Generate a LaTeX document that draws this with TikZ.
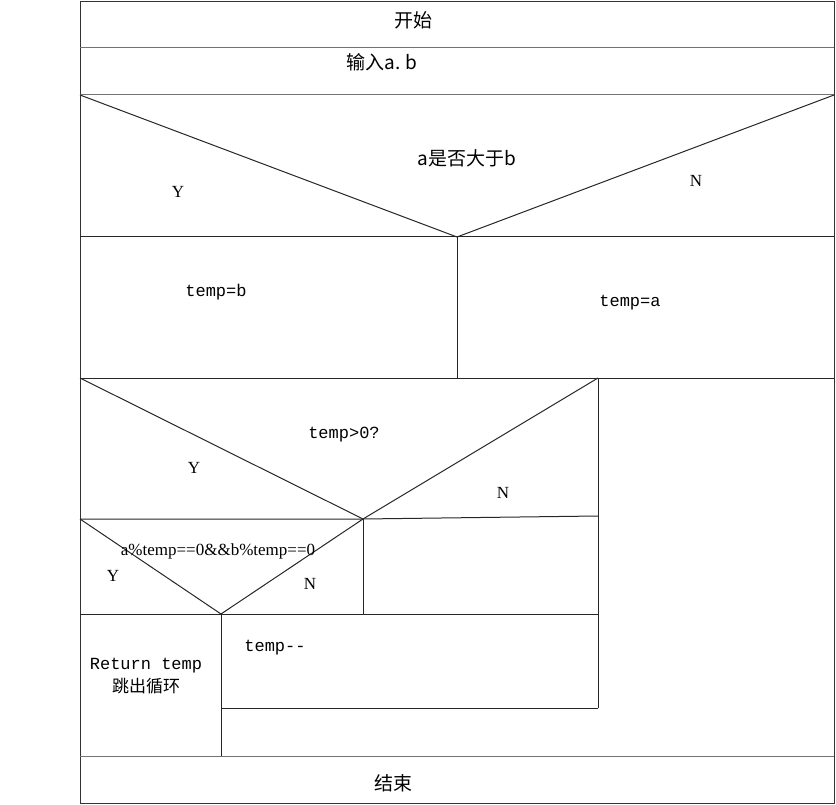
\documentclass[tikz,border=0pt]{standalone}
\usepackage{fontspec}
\setmainfont{Liberation Serif}
\setmonofont{Liberation Mono}
\newfontfamily\cjk{Noto Sans CJK SC}

\begin{document}
\begin{tikzpicture}[x=1pt,y=-1pt,line width=1pt,
		cn/.style={font=\cjk\fontsize{19}{22}\selectfont},
		code/.style={font=\ttfamily\fontsize{17}{23}\selectfont},
		yn/.style={font=\fontsize{17}{20}\selectfont}]
				\useasboundingbox (0,0) rectangle (836,805);
				\draw[black!80] (80,2) rectangle (834,803);
				\draw[black!55] (80,48) -- (834,48);
				\draw[black!55] (80,95) -- (834,95);
				\draw[black!55] (80,756) -- (834,756);
				
				\draw[black!85] (80,95) -- (457,237) -- (834,95);
				\draw[black!85] (80,237) -- (834,237);
				\draw[black!85] (457,237) -- (457,378);
				\draw[black!85] (80,378) -- (834,378);
				
				\draw[black!85] (80,378) -- (363,519) -- (598,378);
				\draw[black!85] (598,378) -- (598,708);
				\draw[black!85] (80,519) -- (363,519) -- (598,516);
				\draw[black!85] (363,519) -- (363,614);
				\draw[black!85] (80,519) -- (221,614) -- (363,519);
				\draw[black!85] (80,614) -- (598,614);
				\draw[black!85] (221,614) -- (221,756);
				\draw[black!85] (221,708) -- (598,708);
				
				\node[cn] (start) at (413,20) {开始};
				\node[cn] (input) at (382,62) {输入a. b};
				\node[cn] (cmpab) at (467,158) {a是否大于b};
				\node[yn] (ya) at (178,192) {Y};
				\node[yn] (na) at (696,181) {N};
				\node[code] (tempb) at (216,292) {temp=b};
				\node[code] (tempa) at (630,303) {temp=a};
				
				\node[code] (loopcond) at (344,435) {temp>0?};
				\node[yn] (yloop) at (194,468) {Y};
				\node[yn] (nloop) at (503,493) {N};
				\node[font=\fontsize{17}{20}\selectfont] (modcond) at (218,551) {a\%temp==0\&\&b\%temp==0};
				\node[yn] (ymod) at (113,576) {Y};
				\node[yn] (nmod) at (310,584) {N};
				
				\node[code,align=center] (ret) at (146,676) {Return temp\\{\cjk 跳出循环}};
				\node[code] (dec) at (275,648) {temp--};
				\node[cn] (stop) at (393,783) {结束};
			\end{tikzpicture}
\end{document}
